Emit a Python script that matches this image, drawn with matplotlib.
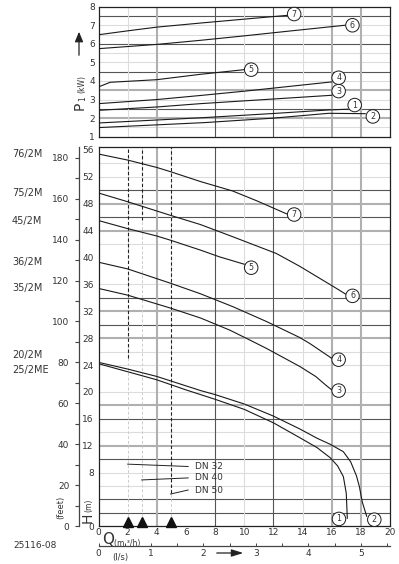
import numpy as np
import matplotlib
matplotlib.use("Agg")
import matplotlib.pyplot as plt
from matplotlib import font_manager

# --- data ---
# P1 (kW) vs Q (m3/h), top diagram
p_q = {
    "7": [0, 2, 4, 7, 10, 12.9],
    "6": [0, 4, 7, 10, 13, 16.9],
    "5": [0, 0.8, 4, 7, 10],
    "4": [0, 4, 7, 10, 13, 16],
    "3": [0, 4, 7, 10, 13, 16],
    "1": [0, 7.3, 12, 15.8, 17.1],
    "2": [0, 7.3, 12, 15.8, 18.3],
}
p_kw = {
    "7": [6.49, 6.70, 6.90, 7.12, 7.33, 7.53],
    "6": [5.74, 5.97, 6.19, 6.43, 6.68, 7.0],
    "5": [3.68, 3.93, 4.07, 4.36, 4.61],
    "4": [2.78, 3.0, 3.22, 3.45, 3.70, 3.95],
    "3": [2.42, 2.60, 2.78, 2.93, 3.08, 3.23],
    "1": [1.74, 2.03, 2.25, 2.44, 2.48],
    "2": [1.49, 1.76, 2.0, 2.26, 2.24],
}
# H (m) vs Q (m3/h), main diagram
h_q = {
    "7": [0, 2, 4, 4.9, 7, 9.2, 10.9, 12.9],
    "6": [0, 2, 4.9, 7, 9.2, 12.2, 13.8, 16.1, 17],
    "5": [0, 2, 4, 4.9, 7, 8.3, 10],
    "4": [0, 2, 4.9, 7, 9.2, 11.5, 13.8, 14.5, 16],
    "3": [0, 2, 4.9, 7, 9, 10.4, 11.5, 13.8, 14.9, 15.6, 16],
    "1": [0, 2, 4, 6, 7, 8, 10, 12, 13.8, 15, 15.9, 16.4, 16.8, 17.0, 17.07],
    "2": [0, 2, 4, 6, 7, 8, 10, 12, 13.8, 15, 15.9, 16.8, 17.3, 17.7, 17.9, 18.1, 18.4],
}
h_m = {
    "7": [55.4, 54.5, 53.4, 52.8, 51.3, 49.9, 48.4, 46.5],
    "6": [49.6, 48.3, 46.3, 44.9, 43.1, 40.6, 38.7, 35.7, 34.5],
    "5": [45.5, 44.3, 43.2, 42.6, 41.1, 40.1, 39.0],
    "4": [39.3, 38.3, 36.2, 34.6, 32.7, 30.5, 28.1, 27.2, 25.0],
    "3": [35.4, 34.4, 32.5, 31.0, 29.2, 27.7, 26.5, 23.8, 22.3, 21.0, 20.3],
    "1": [24.2, 23.0, 21.8, 20.3, 19.6, 18.9, 17.4, 15.4, 13.2, 11.7, 10.2, 9.0, 7.4, 4.9, 1.2],
    "2": [24.4, 23.4, 22.3, 20.9, 20.2, 19.6, 18.2, 16.4, 14.5, 13.1, 12.2, 11.1, 9.6, 7.5, 5.9, 3.6, 1.5],
}
models = ["76/2M", "75/2M", "45/2M", "36/2M", "35/2M", "20/2M", "25/2ME"]
model_h = [55.4, 49.6, 45.5, 39.3, 35.4, 25.5, 23.2]
pipe_names = ["DN 32", "DN 40", "DN 50"]
pipe_q = [2, 2.96, 4.94]
pipe_h_top = [25, 45.6, 5]
h_ticks = [0, 8, 12, 16, 20, 24, 28, 32, 36, 40, 44, 48, 52, 56]

# label offsets (points) from curve end
p_off = {"7": (5.5, 1), "6": (5.5, 0), "5": (5, 0), "4": (5, 3), "3": (5, 3), "1": (5, 3), "2": (5.5, -2)}
h_off = {"7": (5.5, -0.5), "6": (4.5, -1), "5": (5, -2.5), "4": (5, -1), "3": (5, -0.5), "1": (-6, -0.5), "2": (5.5, -2.5)}

names = {f.name for f in font_manager.fontManager.ttflist}
fam = "Liberation Sans Narrow" if "Liberation Sans Narrow" in names else "DejaVu Sans"
plt.rcParams["font.family"] = fam
TC = "#333333"
LC = "#1a1a1a"

W, HH = 399, 564
def rect(l, t, r, b):
    return [l / W, 1 - b / HH, (r - l) / W, max(b - t, 0.5) / HH]

fig = plt.figure(figsize=(3.99, 5.64), dpi=100)

dark = dict(color="#555555", lw=0.8)
gray = dict(color="#b0b0b0", lw=1.5)
light = dict(color="#dcdcdc", lw=0.8)
vstyle = {2: light, 4: gray, 8: dark, 10: light, 12: dark, 14: light, 16: gray, 18: gray}
circ = dict(boxstyle="circle,pad=0.28", fc="white", ec=LC, lw=0.7)

# ---------- top: power ----------
axp = fig.add_axes(rect(98.5, 6.7, 390, 136.7))
axp.set_xlim(0, 20)
axp.set_ylim(1, 8)
ph_style = [light, gray, dark, light, gray, light, dark, light, light, dark, light, light, dark]
for v, st in zip(np.arange(1.5, 8, 0.5), ph_style):
    axp.axhline(v, zorder=1, **st)
for q, st in vstyle.items():
    axp.axvline(q, zorder=1, **st)
for k in p_q:
    axp.plot(p_q[k], p_kw[k], color=LC, lw=0.8, zorder=3)
    axp.annotate(k, (p_q[k][-1], p_kw[k][-1]), xytext=p_off[k], textcoords="offset points",
                 ha="center", va="center", fontsize=5.8, color=TC, zorder=4, bbox=circ)
axp.set_xticks([])
axp.set_yticks(range(1, 9))
axp.tick_params(axis="y", length=0, pad=2.5, labelsize=6.5, labelcolor=TC)
for s in axp.spines.values():
    s.set_linewidth(0.9)
    s.set_color("#222222")

fig.text(80 / W, 1 - 106 / HH, "P", rotation=90, fontsize=10, color=TC, ha="center", va="center")
fig.text(83 / W, 1 - 98.5 / HH, "1", rotation=90, fontsize=5.5, color=TC, ha="center", va="center")
fig.text(81.5 / W, 1 - 84 / HH, "(kW)", rotation=90, fontsize=5.5, color=TC, ha="center", va="center")
fig.add_artist(matplotlib.patches.FancyArrowPatch((79 / W, 1 - 58 / HH), (79 / W, 1 - 29 / HH),
               transform=fig.transFigure, arrowstyle="-|>,head_length=6,head_width=2.5",
               color="#222222", lw=0.9))

# ---------- main: head ----------
axh = fig.add_axes(rect(98.5, 147.3, 390, 526.3))
axh.set_xlim(0, 20)
axh.set_ylim(0, 56.4)
hstyle = {2: dark, 4: dark, 6: light, 8: light, 10: dark, 12: gray, 14: light, 16: dark,
          18: gray, 20: light, 24: light, 26: light, 28: gray, 30: dark, 32: gray, 34: dark,
          36: light, 42: light, 44: gray, 46: dark, 48: gray, 50: dark, 52: light, 54: light}
for v, st in hstyle.items():
    axh.axhline(v, zorder=1, **st)
for q, st in vstyle.items():
    if q == 2:
        continue
    axh.axvline(q, zorder=1, **st)
for q, top in zip(pipe_q, pipe_h_top):
    axh.axvline(q, color="#cccccc", lw=0.7, ls=(0, (3, 2)), zorder=1)
    axh.plot([q, q], [top, 56.4], color="#222222", lw=0.8, ls=(0, (3, 2)), zorder=2)

for k in h_q:
    axh.plot(h_q[k], h_m[k], color=LC, lw=0.8, zorder=3)
    axh.annotate(k, (h_q[k][-1], h_m[k][-1]), xytext=h_off[k], textcoords="offset points",
                 ha="center", va="center", fontsize=5.8, color=TC, zorder=4, bbox=circ)

# pipe size markers
axh.plot(pipe_q, [0.62] * 3, ls="none", marker="^", ms=7, color="#111111", zorder=5, clip_on=False)
label_h = [8.9, 7.2, 5.4]
start_h = [9.25, 6.9, 4.8]
for name, q, h0, h1 in zip(pipe_names, pipe_q, start_h, label_h):
    axh.plot([q, 6.15], [h0, h1], color="#222222", lw=0.7, zorder=3)
    axh.text(6.6, h1, name, fontsize=6.5, color=TC, va="center", ha="left", zorder=4)

axh.set_xticks(range(0, 21, 2))
axh.set_yticks(h_ticks)
axh.tick_params(axis="x", length=0, pad=1.5, labelsize=6.5, labelcolor=TC)
axh.tick_params(axis="y", length=0, pad=3.5, labelsize=6.5, labelcolor=TC)
for s in axh.spines.values():
    s.set_linewidth(0.9)
    s.set_color("#222222")

# feet scale
axf = fig.add_axes(rect(79, 147.3, 79.6, 526.3))
axf.set_ylim(0, 56.4 / 0.3048)
axf.set_xticks([])
axf.set_yticks(range(0, 181, 20))
axf.set_yticks(range(10, 181, 20), minor=True)
axf.tick_params(axis="y", which="both", direction="out", length=3, width=0.8, pad=4,
                labelsize=6.5, labelcolor=TC, color="#444444")
for n in ["top", "right", "bottom"]:
    axf.spines[n].set_visible(False)
axf.spines["left"].set_color("#444444")
axf.spines["left"].set_linewidth(0.9)
axf.patch.set_visible(False)

# l/s scale
axl = fig.add_axes(rect(98.5, 546, 390, 546))
axl.set_xlim(0, 20 / 3.6)
axl.set_yticks([])
axl.set_xticks(range(0, 6))
axl.set_xticks(np.arange(0.5, 5.6, 1.0), minor=True)
axl.tick_params(axis="x", which="both", direction="in", length=2.5, width=0.7, pad=2,
                labelsize=6.5, labelcolor=TC, color="#444444")
for n in ["top", "right", "left"]:
    axl.spines[n].set_visible(False)
axl.spines["bottom"].set_color("#444444")
axl.spines["bottom"].set_linewidth(0.9)
axl.patch.set_visible(False)
fig.add_artist(matplotlib.patches.FancyArrowPatch((214 / W, 1 - 553 / HH), (246 / W, 1 - 553 / HH),
               transform=fig.transFigure, arrowstyle="-|>,head_length=7,head_width=2.2",
               color="#222222", lw=0.9))

# axis captions
fig.text(88 / W, 1 - 517.5 / HH, "H", rotation=90, fontsize=10, color=TC, ha="center", va="center")
fig.text(88.5 / W, 1 - 505.5 / HH, "(m)", rotation=90, fontsize=5.5, color=TC, ha="center", va="center")
fig.text(61 / W, 1 - 507 / HH, "(feet)", rotation=90, fontsize=6, color=TC, ha="center", va="center")
fig.text(108 / W, 1 - 540 / HH, "Q", fontsize=11, color=TC, ha="center", va="center")
fig.text(114 / W, 1 - 543.5 / HH, "(m ³/h)", fontsize=5.5, color=TC, ha="left", va="center")
fig.text(120 / W, 1 - 557.5 / HH, "(l/s)", fontsize=6, color=TC, ha="center", va="center")
fig.text(13 / W, 1 - 546 / HH, "25116-08", fontsize=6.5, color=TC, ha="left", va="center")

for name, h in zip(models, model_h):
    y = axh.transData.transform((0, h))[1]
    fig.text(12 / W, y / fig.dpi / 5.64, name, fontsize=7, color=TC, ha="left", va="center")

fig.savefig("out.png", dpi=100)
